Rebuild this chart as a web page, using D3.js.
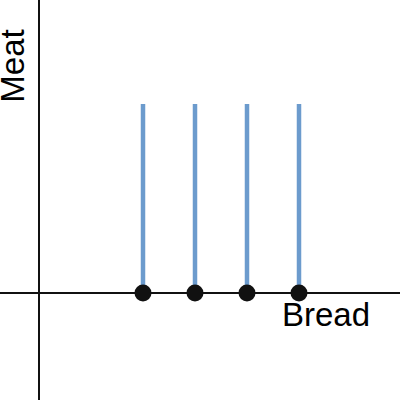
<!DOCTYPE html><html><head><script src="https://cdn.jsdelivr.net/npm/d3@7"></script>
<style>body{margin:0}</style></head><body><script>
const bread=[2,3,4,5];
const meatTop=[3.63,3.63,3.63,3.63];
const meat=[0,0,0,0];
const W=400,H=400;
const x=d3.scaleLinear().domain([0,7]).range([39,403]);
const y=d3.scaleLinear().domain([-2,5.63]).range([397,0]);
const svg=d3.select("body").append("svg").attr("width",W).attr("height",H);
svg.append("line").attr("x1",0).attr("x2",W).attr("y1",y(0)).attr("y2",y(0)).attr("stroke","#111").attr("stroke-width",2);
svg.append("line").attr("x1",x(0)).attr("x2",x(0)).attr("y1",0).attr("y2",H).attr("stroke","#111").attr("stroke-width",2);
svg.selectAll(".s").data(bread).join("line").attr("x1",d=>x(d)).attr("x2",d=>x(d))
 .attr("y1",(d,i)=>y(meat[i])).attr("y2",(d,i)=>y(meatTop[i])).attr("stroke","#6c9bcd").attr("stroke-width",4.5);
svg.selectAll("circle").data(bread).join("circle").attr("cx",d=>x(d)).attr("cy",(d,i)=>y(meat[i])).attr("r",8.5).attr("fill","#111");
svg.append("text").attr("x",370).attr("y",326).attr("text-anchor","end").attr("font-family","Liberation Sans, Arial").attr("font-size",33).text("Bread");
svg.append("text").attr("transform","translate(24,66) rotate(-90)").attr("text-anchor","middle").attr("font-family","Liberation Sans, Arial").attr("font-size",33).text("Meat");
</script></body></html>
